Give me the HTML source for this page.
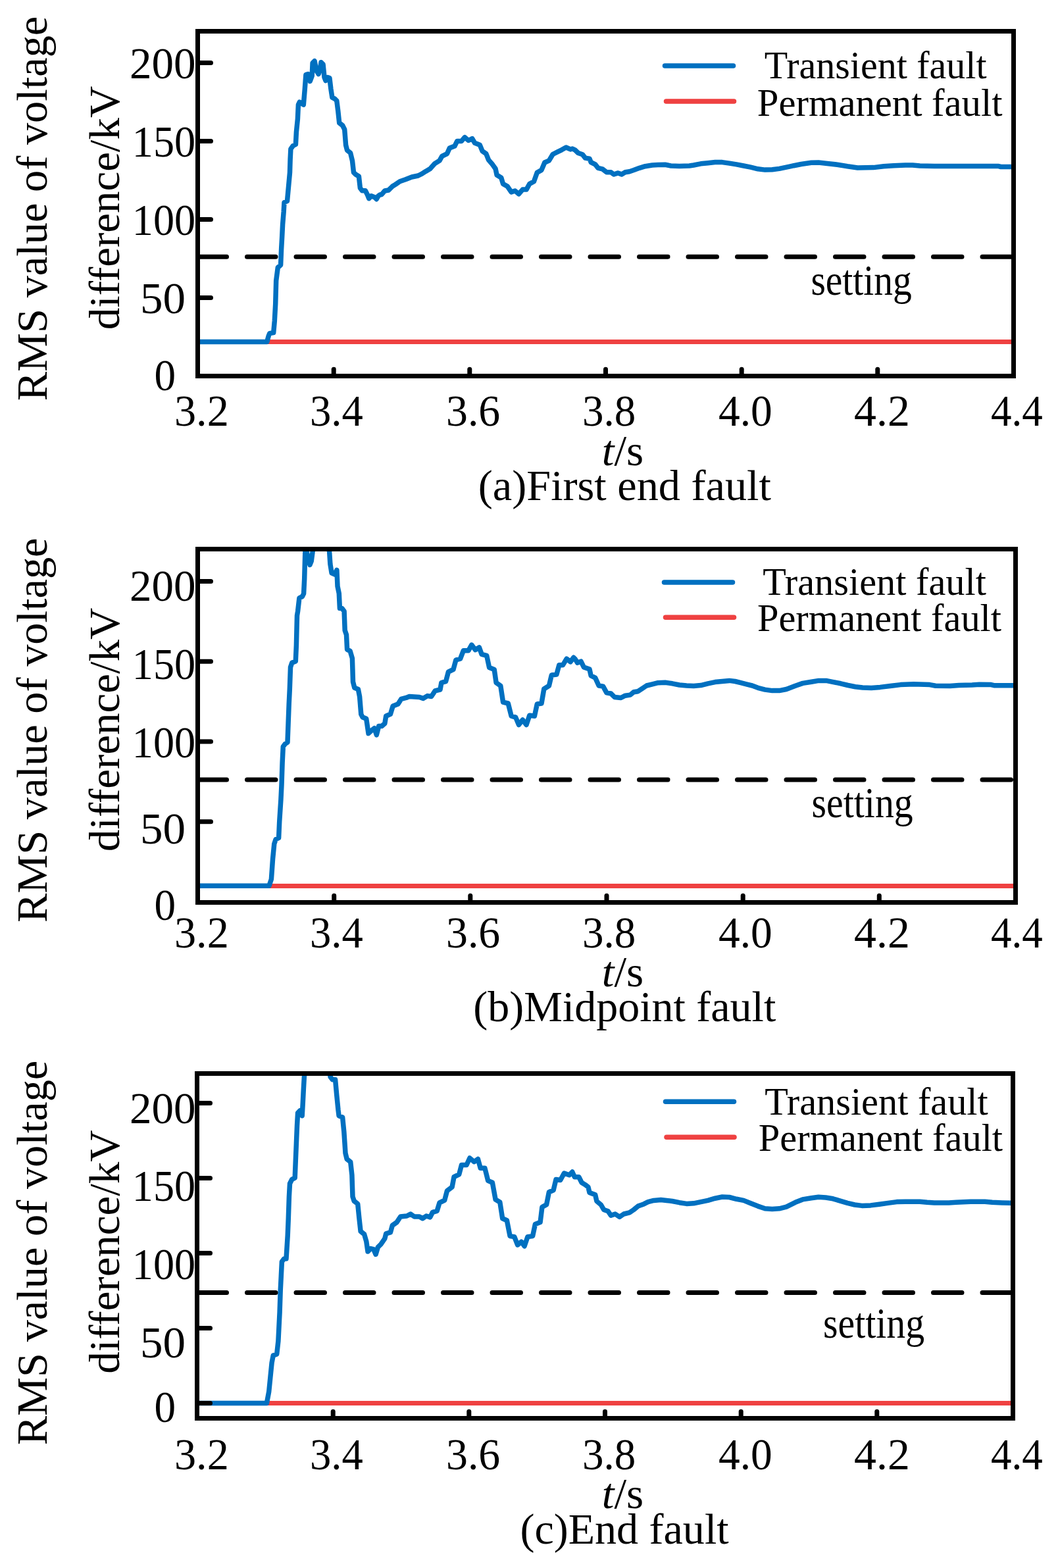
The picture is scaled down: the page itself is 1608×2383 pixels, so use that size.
<!DOCTYPE html>
<html><head><meta charset="utf-8"><title>RMS value of voltage difference</title>
<style>
html,body{margin:0;padding:0;background:#fff;}
svg{display:block;}
text{font-family:'Liberation Serif', 'Times New Roman', serif;fill:#000;}
</style></head><body>
<svg width="1608" height="2383" viewBox="0 0 1608 2383">
<rect width="1608" height="2383" fill="#fff"/>
<clipPath id="clipa"><rect x="304" y="51" width="1233" height="517"/></clipPath>
<g clip-path="url(#clipa)">
<line x1="405" y1="519.5" x2="1540.5" y2="519.5" stroke="#EF4141" stroke-width="7"/>
<polyline points="304,519.5 390,519.5 405.8,519.5 408.2,510.6 409.8,506.6 415.7,505.6 417.3,487.8 418.7,462.1 419.7,426.4 422.3,406.6 426.6,402.7 427.6,378.9 428.6,361.1 429.6,341.3 431.2,321.5 432,307.6 436.5,305.6 438.5,283.9 440.5,262.1 441.1,242.3 441.9,226.4 445.4,221.5 449.4,219.5 450.4,200.7 452.4,180.9 453.4,159.1 455.3,155.1 461.3,159.1 463.3,135.3 464.9,113.6 468.2,112.6 471.2,123.5 474.2,115.5 475.1,95.7 478.1,92.8 481.1,107.6 484.1,112.6 487,101.7 488,94.8 491,97.7 493,117.5 495,122.5 497.9,117.5 500.9,118.5 502.9,135.3 504.9,148.2 508.8,150.2 511.8,153.2 513.8,169 515.7,186.8 520.7,190.8 523.7,196.7 525.6,220.5 527.6,228.4 532.6,232.4 535.5,244.3 537.5,262.1 540.5,265 545.4,268 547.4,285.8 550.4,289.8 555.3,289.8 558.3,295.7 560.7,301.7 564.3,297.7 569.2,299.7 572.2,302.7 575.1,297.7 578.1,295.7 580,295.7 584.8,290 590.5,289 596.3,283.3 601,280.4 607.7,275.7 616.3,272.8 625.9,269 635.5,267 641.2,264.2 647,260.4 653.7,256.5 660.4,248.9 668,244.1 671.8,237.4 679.5,233.6 683.3,225 691,222.1 694.8,214.4 701.5,214.4 706.3,208.7 712,213.5 717.7,210.6 721.6,217.3 729.2,220.2 733.1,229.7 738.8,233.6 742.6,243.1 748.4,249.8 753.1,256.5 755.1,266.1 761.7,269.9 764.6,279.5 771.3,283.3 777.1,291.9 782.8,290 788.5,294.8 794.3,288.1 800,288.1 804.8,279.5 811.5,275.7 816.3,262.3 823,258.4 827.8,247 834.4,244.1 840.2,234.5 847.8,230.7 853.6,227.8 860.3,224 867,226.9 870,226 874.3,228.2 878.7,232.5 885.2,234.7 889.5,240.1 896,241.2 898.2,246.6 904.7,249.9 909,255.3 915.5,256.8 922,261.8 928.5,261.8 932.9,265 939.4,262.9 944.8,265 950.2,261.8 956.7,260.7 963.2,258.5 971.9,255.3 980.6,252.7 991.4,251 1000.1,250.5 1010.9,250.3 1019.6,252 1032.6,252.5 1047.8,252 1054.3,251 1065.1,248.8 1076,247.7 1086.8,246.6 1097.7,246.6 1108.5,248.1 1119.3,249.9 1130.2,252 1141,254.2 1151.9,256.8 1162.7,258.1 1173.6,257.7 1184.4,256.4 1195.2,254.2 1200,253.2 1206.6,251.7 1217.6,249.5 1233,247.3 1244,246.9 1257.2,248.4 1272.6,250.2 1288,252.8 1303.4,255 1327.6,254.6 1343,252.8 1358.4,251.7 1376,251 1387,251 1398,252.1 1420,252.4 1442,252.4 1464,252.4 1486,252.4 1516.8,252.4 1521.2,253.5 1536.6,253.5" fill="none" stroke="#0070C0" stroke-width="7.5" stroke-linejoin="round" stroke-linecap="round"/>
<line x1="301" y1="390.2" x2="1580.5" y2="390.2" stroke="#000" stroke-width="7" stroke-linecap="round" stroke-dasharray="43.5 31"/>
</g>
<rect x="300.5" y="47.5" width="1240" height="524" fill="none" stroke="#000" stroke-width="7"/>
<line x1="303.5" y1="452.5" x2="320.5" y2="452.5" stroke="#000" stroke-width="7" stroke-linecap="round"/>
<line x1="303.5" y1="333.5" x2="320.5" y2="333.5" stroke="#000" stroke-width="7" stroke-linecap="round"/>
<line x1="303.5" y1="214.5" x2="320.5" y2="214.5" stroke="#000" stroke-width="7" stroke-linecap="round"/>
<line x1="303.5" y1="95.5" x2="320.5" y2="95.5" stroke="#000" stroke-width="7" stroke-linecap="round"/>
<line x1="507.2" y1="568.5" x2="507.2" y2="561.2" stroke="#000" stroke-width="7" stroke-linecap="round"/>
<line x1="713.8" y1="568.5" x2="713.8" y2="561.2" stroke="#000" stroke-width="7" stroke-linecap="round"/>
<line x1="920.5" y1="568.5" x2="920.5" y2="561.2" stroke="#000" stroke-width="7" stroke-linecap="round"/>
<line x1="1127.2" y1="568.5" x2="1127.2" y2="561.2" stroke="#000" stroke-width="7" stroke-linecap="round"/>
<line x1="1333.8" y1="568.5" x2="1333.8" y2="561.2" stroke="#000" stroke-width="7" stroke-linecap="round"/>
<line x1="1010.5" y1="100" x2="1114.5" y2="100" stroke="#0070C0" stroke-width="7.5" stroke-linecap="round"/>
<line x1="1012.5" y1="154" x2="1115.5" y2="154" stroke="#EF4141" stroke-width="7.5" stroke-linecap="round"/>
<clipPath id="clipb"><rect x="304" y="838" width="1236" height="530"/></clipPath>
<g clip-path="url(#clipb)">
<line x1="408" y1="1346.5" x2="1543.5" y2="1346.5" stroke="#EF4141" stroke-width="7"/>
<polyline points="304,1346.2 390,1346.2 409,1346.2 412.4,1336.1 414.6,1304.8 416.8,1282.4 419.1,1275.7 423.6,1273.5 424.7,1248.9 426.9,1215.3 428,1192.9 429.1,1159.4 430.3,1134.8 433.6,1130.3 437,1128.1 438.1,1099 439.2,1069.9 440.3,1047.5 441.5,1014 443.7,1007.3 449.3,1005 450.4,980.4 451.5,935.7 452.6,929 454.9,908.8 459.4,906.6 461.6,902.1 462.7,879.7 463.8,839.5 464.9,832.8 468.3,848.4 471,858.5 473.2,852.9 475,839.5 476.1,830.5 479.5,812.6 488.4,801.4 497.4,817.1 499.6,830.5 500.7,839.5 501.9,857.4 504.1,870.8 508.6,873 511.9,866.3 513,890.9 515.3,902.1 516.4,924.5 519.8,924.5 523.1,929 524.2,958 526.5,964.8 527.6,987.1 532.1,989.4 535.4,1000.5 536.5,1036.3 538.8,1045.3 544.4,1047.5 546.6,1058.7 548.8,1085.6 551.1,1090 556.7,1092.3 560,1114.6 564.5,1110.2 569,1106.8 572.3,1116.9 575.7,1103.5 580.2,1103.5 584.8,1099.7 586.7,1088.2 593.4,1085.3 597.2,1072.9 604.9,1070 609.7,1062.4 617.3,1060.4 622.1,1058.5 637.4,1059.5 643.1,1061.4 649.8,1057.6 655.6,1058.5 661.3,1049.9 669,1048 670.9,1037.5 677.6,1035.6 681.4,1021.2 689,1017.4 692.9,1003 699.6,1001.1 704.4,988.7 712,988.7 716.8,980.1 722.5,987.7 728.3,983.9 732.1,994.4 739.7,996.3 743.6,1014.5 751.2,1017.4 754.1,1037.5 760.8,1042.3 764.6,1067.1 772.3,1069 777.1,1088.2 783.7,1090.1 788.5,1101.6 794.3,1093.9 800,1101.6 804.8,1087.2 812.4,1088.2 816.3,1070 823,1069 826.8,1047 834.4,1042.3 838.3,1026 845.9,1025 849.8,1010.7 855.5,1010.7 861.2,1001.1 867,1005.9 871.8,999.2 874.3,1001.9 877.6,1007.3 883,1005.2 887.3,1013.9 896,1017.1 898.2,1026.9 904.7,1030.1 910.1,1042 916.6,1043.1 922,1052.9 928.5,1054 934,1059.4 943.7,1060.5 950.2,1057.2 957.8,1056.1 963.2,1051.8 969.7,1050.7 976.2,1046.4 982.7,1042 991.4,1039.9 1000.1,1037.7 1010.9,1037.3 1021.8,1038.8 1032.6,1041 1043.5,1042 1054.3,1042.5 1065.1,1041.6 1076,1038.8 1086.8,1036.6 1097.7,1035.5 1108.5,1034.4 1117.2,1035.5 1125.9,1037.7 1134.5,1039.9 1143.2,1042 1151.9,1045.3 1162.7,1048.1 1173.6,1049.6 1184.4,1049.6 1195.2,1047.5 1208.9,1042.2 1220,1038.4 1233.3,1036.2 1244.4,1034.4 1255.5,1034.4 1266.6,1036.6 1277.7,1038.8 1288.8,1041.5 1299.9,1043.7 1311,1045 1324.3,1045.5 1337.6,1044.4 1355.3,1042.2 1368.7,1040.6 1388.6,1039.7 1413,1040.6 1421.9,1042.2 1444.1,1042.6 1457.4,1041.5 1477.4,1041 1488.5,1040.2 1506.3,1040.6 1510.7,1041.7 1541.8,1041.7" fill="none" stroke="#0070C0" stroke-width="7.5" stroke-linejoin="round" stroke-linecap="round"/>
<line x1="301" y1="1185" x2="1583.5" y2="1185" stroke="#000" stroke-width="7" stroke-linecap="round" stroke-dasharray="43.5 31"/>
</g>
<rect x="300.5" y="834.5" width="1243" height="537" fill="none" stroke="#000" stroke-width="7"/>
<line x1="303.5" y1="1248.8" x2="320.5" y2="1248.8" stroke="#000" stroke-width="7" stroke-linecap="round"/>
<line x1="303.5" y1="1127" x2="320.5" y2="1127" stroke="#000" stroke-width="7" stroke-linecap="round"/>
<line x1="303.5" y1="1005.2" x2="320.5" y2="1005.2" stroke="#000" stroke-width="7" stroke-linecap="round"/>
<line x1="303.5" y1="883.5" x2="320.5" y2="883.5" stroke="#000" stroke-width="7" stroke-linecap="round"/>
<line x1="507.7" y1="1368.5" x2="507.7" y2="1361.2" stroke="#000" stroke-width="7" stroke-linecap="round"/>
<line x1="714.8" y1="1368.5" x2="714.8" y2="1361.2" stroke="#000" stroke-width="7" stroke-linecap="round"/>
<line x1="922" y1="1368.5" x2="922" y2="1361.2" stroke="#000" stroke-width="7" stroke-linecap="round"/>
<line x1="1129.2" y1="1368.5" x2="1129.2" y2="1361.2" stroke="#000" stroke-width="7" stroke-linecap="round"/>
<line x1="1336.3" y1="1368.5" x2="1336.3" y2="1361.2" stroke="#000" stroke-width="7" stroke-linecap="round"/>
<line x1="1009.5" y1="885" x2="1113.5" y2="885" stroke="#0070C0" stroke-width="7.5" stroke-linecap="round"/>
<line x1="1011.5" y1="938.2" x2="1115.5" y2="938.2" stroke="#EF4141" stroke-width="7.5" stroke-linecap="round"/>
<clipPath id="clipc"><rect x="303" y="1635" width="1233" height="517"/></clipPath>
<g clip-path="url(#clipc)">
<line x1="404" y1="2132.5" x2="1539.5" y2="2132.5" stroke="#EF4141" stroke-width="7"/>
<polyline points="304,2132.5 390,2132.5 405.4,2132.5 408.7,2115 410.9,2093 413.1,2071.1 415.2,2060.1 420.7,2057.9 422.9,2038.1 424,2016.2 425.1,1994.2 426.2,1961.3 427.3,1939.4 428.4,1917.4 431.7,1913 435,1913 436.1,1895.4 437.2,1877.9 438.3,1851.5 439.4,1818.6 440.5,1798.8 443.8,1792.3 448.2,1790.1 449.3,1763.7 450.4,1737.4 451.5,1711 452.6,1691.3 455.9,1688 459.2,1695.7 460.3,1675.9 461.4,1654 462.4,1636.4 463.5,1621 469,1588.1 482.2,1566.1 495.4,1588.1 500.9,1625.4 502,1636.4 505.3,1640.8 509.6,1640.8 511.8,1664.9 514,1686.9 515.1,1695.7 520.6,1697.9 522.8,1719.8 525,1752.7 527.2,1761.5 532.7,1765.9 534.9,1785.7 536,1818.6 538.2,1825.2 543.7,1829.6 545.9,1851.5 548.1,1871.3 553.6,1875.7 556.8,1886.7 559,1902 563.4,1897.6 567.8,1898.7 571.1,1906.4 574.4,1895.4 578.8,1891.1 584.8,1882.4 586.7,1874.8 593.4,1872.9 596.3,1862.4 603,1857.6 608.7,1849 618.3,1848 624,1845.1 629.7,1849 637.4,1849 642.2,1851.8 647.9,1848 653.7,1849.9 657.5,1842.3 664.2,1840.4 668,1827.9 675.7,1824.1 679.5,1809.7 687.1,1804 690,1788.7 697.7,1784.9 701.5,1770.5 709.1,1770.5 713.9,1760 720.6,1765.7 726.4,1761.5 730.2,1775.3 736.9,1775.3 741.7,1794.4 748.4,1797.3 753.1,1823.1 759.8,1827 763.7,1851.8 770.4,1854.7 775.1,1878.6 781.8,1879.6 786.6,1892 792.4,1887.2 797.1,1893.9 801.9,1879.6 809.6,1878.6 813.4,1860.4 821.1,1857.6 823.9,1834.6 830.6,1830.8 834.4,1811.7 841.1,1808.8 845,1792.5 851.7,1793.5 857.4,1783 865.1,1785.8 869.8,1781 873.3,1788.7 879.8,1788.7 884.1,1797.3 889.5,1800.6 893.9,1803.9 896,1812.5 904.7,1815.8 906.9,1825.5 913.4,1831 917.7,1838.5 924.2,1840.7 928.5,1847.2 935,1845 941.6,1849.4 948.1,1845 956.7,1842.9 963.2,1838.5 969.7,1833.1 978.4,1829.9 984.9,1826.6 993.6,1824.4 1004.4,1823.4 1013.1,1824.4 1021.8,1825.5 1032.6,1827.7 1043.5,1829.4 1054.3,1828.8 1065.1,1826.6 1076,1824.4 1086.8,1821.2 1097.7,1819 1108.5,1819.5 1119.3,1822.3 1130.2,1824.4 1141,1828.8 1151.9,1833.1 1162.7,1836.8 1173.6,1837.5 1184.4,1836.8 1195.2,1834.2 1208.8,1827.3 1219.8,1822.9 1233,1820.7 1244,1819.2 1255,1820 1266,1821.8 1277,1825.1 1288,1828.4 1299,1831 1310,1832.4 1323.2,1831.9 1336.4,1830.2 1349.6,1828.4 1362.8,1826.6 1376,1826.2 1398,1826.2 1409,1827.3 1420,1828 1442,1828 1453,1827.3 1475,1826.2 1497,1826.2 1508,1827.3 1523.4,1828 1537.7,1828.4" fill="none" stroke="#0070C0" stroke-width="7.5" stroke-linejoin="round" stroke-linecap="round"/>
<line x1="301" y1="1964.5" x2="1579.5" y2="1964.5" stroke="#000" stroke-width="7" stroke-linecap="round" stroke-dasharray="43.5 31"/>
</g>
<rect x="299.5" y="1631.5" width="1240" height="524" fill="none" stroke="#000" stroke-width="7"/>
<line x1="302.5" y1="2132.5" x2="319.5" y2="2132.5" stroke="#000" stroke-width="7" stroke-linecap="round"/>
<line x1="302.5" y1="2018.5" x2="319.5" y2="2018.5" stroke="#000" stroke-width="7" stroke-linecap="round"/>
<line x1="302.5" y1="1904.5" x2="319.5" y2="1904.5" stroke="#000" stroke-width="7" stroke-linecap="round"/>
<line x1="302.5" y1="1790.5" x2="319.5" y2="1790.5" stroke="#000" stroke-width="7" stroke-linecap="round"/>
<line x1="302.5" y1="1676.5" x2="319.5" y2="1676.5" stroke="#000" stroke-width="7" stroke-linecap="round"/>
<line x1="506.2" y1="2152.5" x2="506.2" y2="2145.2" stroke="#000" stroke-width="7" stroke-linecap="round"/>
<line x1="712.8" y1="2152.5" x2="712.8" y2="2145.2" stroke="#000" stroke-width="7" stroke-linecap="round"/>
<line x1="919.5" y1="2152.5" x2="919.5" y2="2145.2" stroke="#000" stroke-width="7" stroke-linecap="round"/>
<line x1="1126.2" y1="2152.5" x2="1126.2" y2="2145.2" stroke="#000" stroke-width="7" stroke-linecap="round"/>
<line x1="1332.8" y1="2152.5" x2="1332.8" y2="2145.2" stroke="#000" stroke-width="7" stroke-linecap="round"/>
<line x1="1011.5" y1="1674.3" x2="1115.5" y2="1674.3" stroke="#0070C0" stroke-width="7.5" stroke-linecap="round"/>
<line x1="1013" y1="1728.2" x2="1116" y2="1728.2" stroke="#EF4141" stroke-width="7.5" stroke-linecap="round"/>
<text x="265.0" y="646.6" font-size="67.0" textLength="82.8" lengthAdjust="spacingAndGlyphs">3.2</text>
<text x="471.0" y="646.6" font-size="67.0" textLength="80.8" lengthAdjust="spacingAndGlyphs">3.4</text>
<text x="678.0" y="646.6" font-size="67.0" textLength="82.2" lengthAdjust="spacingAndGlyphs">3.6</text>
<text x="885.0" y="646.6" font-size="67.0" textLength="81.2" lengthAdjust="spacingAndGlyphs">3.8</text>
<text x="1092.0" y="646.6" font-size="67.0" textLength="81.8" lengthAdjust="spacingAndGlyphs">4.0</text>
<text x="1298.0" y="646.6" font-size="67.0" textLength="84.8" lengthAdjust="spacingAndGlyphs">4.2</text>
<text x="1506.0" y="646.6" font-size="67.0" textLength="78.8" lengthAdjust="spacingAndGlyphs">4.4</text>
<text x="197.0" y="119.4" font-size="67.0">200</text>
<text x="200.8" y="238.2" font-size="67.0" textLength="96.3" lengthAdjust="spacingAndGlyphs">150</text>
<text x="200.8" y="356.8" font-size="67.0" textLength="96.3" lengthAdjust="spacingAndGlyphs">100</text>
<text x="213.0" y="475.8" font-size="67.0" textLength="69.0" lengthAdjust="spacingAndGlyphs">50</text>
<text x="234.4" y="593.0" font-size="67.0" textLength="32.6" lengthAdjust="spacingAndGlyphs">0</text>
<text x="265.0" y="1439.6" font-size="67.0" textLength="82.8" lengthAdjust="spacingAndGlyphs">3.2</text>
<text x="471.0" y="1439.6" font-size="67.0" textLength="80.8" lengthAdjust="spacingAndGlyphs">3.4</text>
<text x="678.0" y="1439.6" font-size="67.0" textLength="82.2" lengthAdjust="spacingAndGlyphs">3.6</text>
<text x="885.0" y="1439.6" font-size="67.0" textLength="81.2" lengthAdjust="spacingAndGlyphs">3.8</text>
<text x="1092.0" y="1439.6" font-size="67.0" textLength="81.8" lengthAdjust="spacingAndGlyphs">4.0</text>
<text x="1298.0" y="1439.6" font-size="67.0" textLength="84.8" lengthAdjust="spacingAndGlyphs">4.2</text>
<text x="1506.0" y="1439.6" font-size="67.0" textLength="78.8" lengthAdjust="spacingAndGlyphs">4.4</text>
<text x="197.0" y="912.6" font-size="67.0">200</text>
<text x="200.8" y="1031.6" font-size="67.0" textLength="96.3" lengthAdjust="spacingAndGlyphs">150</text>
<text x="200.8" y="1150.6" font-size="67.0" textLength="96.3" lengthAdjust="spacingAndGlyphs">100</text>
<text x="213.0" y="1282.0" font-size="67.0" textLength="69.0" lengthAdjust="spacingAndGlyphs">50</text>
<text x="234.4" y="1397.7" font-size="67.0" textLength="32.6" lengthAdjust="spacingAndGlyphs">0</text>
<text x="265.0" y="2233.1" font-size="67.0" textLength="82.8" lengthAdjust="spacingAndGlyphs">3.2</text>
<text x="471.0" y="2233.1" font-size="67.0" textLength="80.8" lengthAdjust="spacingAndGlyphs">3.4</text>
<text x="678.0" y="2233.1" font-size="67.0" textLength="82.2" lengthAdjust="spacingAndGlyphs">3.6</text>
<text x="885.0" y="2233.1" font-size="67.0" textLength="81.2" lengthAdjust="spacingAndGlyphs">3.8</text>
<text x="1092.0" y="2233.1" font-size="67.0" textLength="81.8" lengthAdjust="spacingAndGlyphs">4.0</text>
<text x="1298.0" y="2233.1" font-size="67.0" textLength="84.8" lengthAdjust="spacingAndGlyphs">4.2</text>
<text x="1506.0" y="2233.1" font-size="67.0" textLength="78.8" lengthAdjust="spacingAndGlyphs">4.4</text>
<text x="197.0" y="1706.5" font-size="67.0">200</text>
<text x="200.8" y="1825.4" font-size="67.0" textLength="96.3" lengthAdjust="spacingAndGlyphs">150</text>
<text x="200.8" y="1944.0" font-size="67.0" textLength="96.3" lengthAdjust="spacingAndGlyphs">100</text>
<text x="213.0" y="2063.0" font-size="67.0" textLength="69.0" lengthAdjust="spacingAndGlyphs">50</text>
<text x="234.4" y="2160.6" font-size="67.0" textLength="32.6" lengthAdjust="spacingAndGlyphs">0</text>
<text x="914.8" y="707.0" font-size="66.0" textLength="63.4" lengthAdjust="spacingAndGlyphs"><tspan font-style="italic">t</tspan>/s</text>
<text x="914.8" y="1498.5" font-size="66.0" textLength="63.4" lengthAdjust="spacingAndGlyphs"><tspan font-style="italic">t</tspan>/s</text>
<text x="914.8" y="2292.4" font-size="66.0" textLength="63.4" lengthAdjust="spacingAndGlyphs"><tspan font-style="italic">t</tspan>/s</text>
<text x="726.8" y="759.6" font-size="66.0" textLength="445.1" lengthAdjust="spacingAndGlyphs">(a)First end fault</text>
<text x="719.2" y="1551.5" font-size="66.0">(b)Midpoint fault</text>
<text x="790.4" y="2346.2" font-size="66.0" textLength="317.2" lengthAdjust="spacingAndGlyphs">(c)End fault</text>
<text x="1161.8" y="119.2" font-size="60.0" textLength="337.8" lengthAdjust="spacingAndGlyphs">Transient fault</text>
<text x="1150.8" y="175.8" font-size="60.0" textLength="372.7" lengthAdjust="spacingAndGlyphs">Permanent fault</text>
<text x="1159.2" y="904.4" font-size="60.0" textLength="339.7" lengthAdjust="spacingAndGlyphs">Transient fault</text>
<text x="1151.0" y="959.4" font-size="60.0" textLength="371.0" lengthAdjust="spacingAndGlyphs">Permanent fault</text>
<text x="1162.2" y="1694.4" font-size="60.0" textLength="339.6" lengthAdjust="spacingAndGlyphs">Transient fault</text>
<text x="1152.8" y="1749.2" font-size="60.0" textLength="371.3" lengthAdjust="spacingAndGlyphs">Permanent fault</text>
<text x="1232.4" y="448.1" font-size="65.0" textLength="153.5" lengthAdjust="spacingAndGlyphs">setting</text>
<text x="1233.6" y="1241.9" font-size="65.0" textLength="154.1" lengthAdjust="spacingAndGlyphs">setting</text>
<text x="1251.0" y="2032.5" font-size="65.0" textLength="154.1" lengthAdjust="spacingAndGlyphs">setting</text>
<text transform="translate(71.1,609.2) rotate(-90)" font-size="65.0" textLength="584.5" lengthAdjust="spacingAndGlyphs">RMS value of voltage</text>
<text transform="translate(180.8,501.2) rotate(-90)" font-size="65.0" textLength="370.5" lengthAdjust="spacingAndGlyphs">difference/kV</text>
<text transform="translate(71.1,1402.0) rotate(-90)" font-size="65.0" textLength="584.6" lengthAdjust="spacingAndGlyphs">RMS value of voltage</text>
<text transform="translate(180.8,1294.2) rotate(-90)" font-size="65.0" textLength="370.7" lengthAdjust="spacingAndGlyphs">difference/kV</text>
<text transform="translate(71.1,2196.2) rotate(-90)" font-size="65.0" textLength="584.5" lengthAdjust="spacingAndGlyphs">RMS value of voltage</text>
<text transform="translate(180.8,2087.8) rotate(-90)" font-size="65.0" textLength="370.5" lengthAdjust="spacingAndGlyphs">difference/kV</text>
</svg>
</body></html>
